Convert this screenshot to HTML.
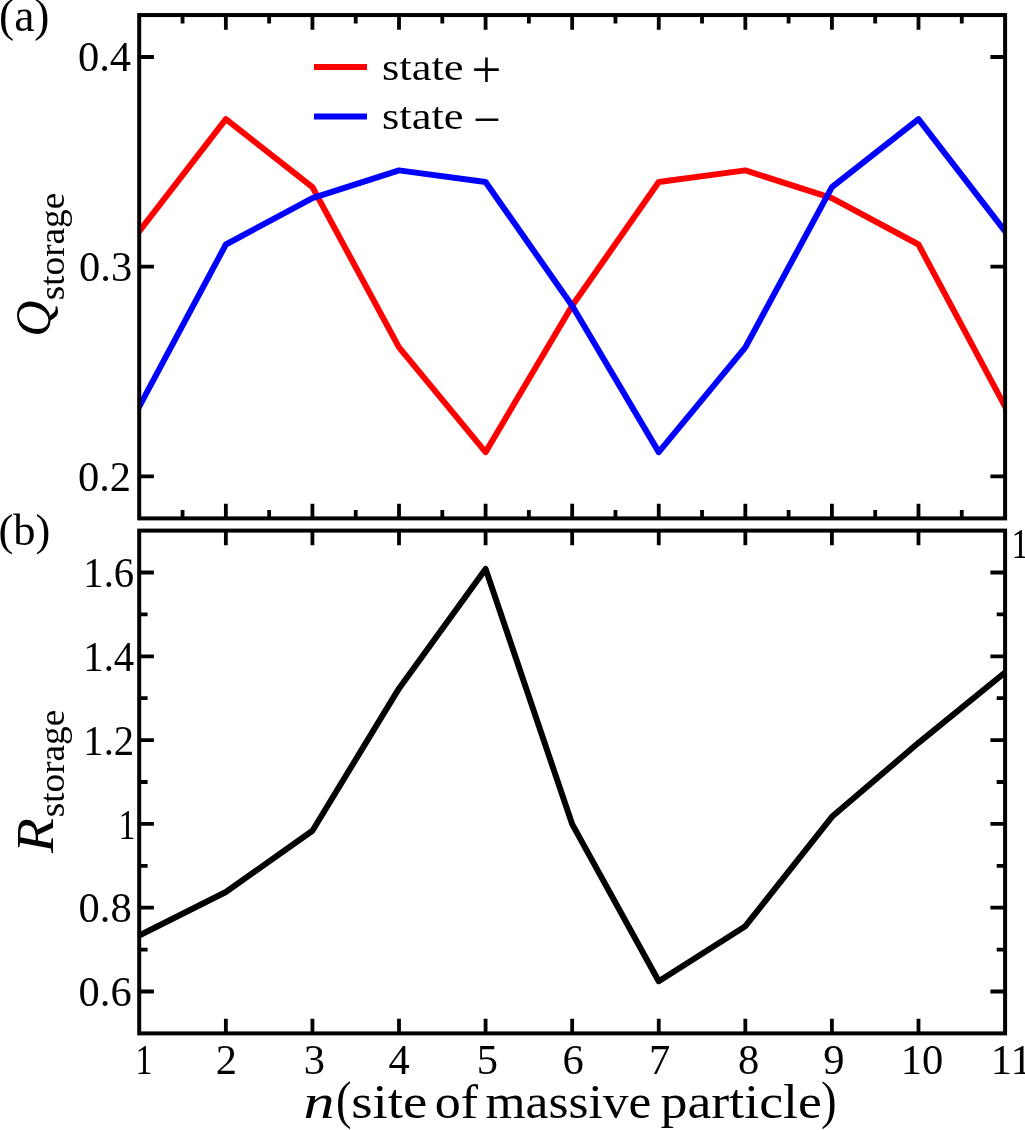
<!DOCTYPE html><html><head><meta charset="utf-8"><title>Storage plot</title><style>html,body{margin:0;padding:0;background:#fff;width:1025px;height:1130px;overflow:hidden}svg{display:block}</style></head><body>
<svg width="1025" height="1130" viewBox="0 0 1025 1130" font-family="'Liberation Serif', serif" fill="#000">
<defs><clipPath id="ca"><rect x="139.2" y="15.05" width="865.9000000000001" height="503.34999999999997"/></clipPath><clipPath id="cb"><rect x="139.2" y="530.6" width="865.9000000000001" height="502.80000000000007"/></clipPath></defs>
<rect width="1025" height="1130" fill="#fff"/>
<g fill="none" stroke-width="6.0" stroke-linejoin="round" stroke-linecap="square">
<polyline clip-path="url(#ca)" stroke="#f00" points="139.27,231.30 225.85,119.10 312.43,187.10 399.01,347.40 485.59,452.10 572.17,305.80 658.75,182.00 745.33,170.40 831.91,198.10 918.49,244.50 1005.07,406.50"/>
<polyline clip-path="url(#ca)" stroke="#00f" points="139.27,406.50 225.85,244.50 312.43,198.10 399.01,170.40 485.59,182.00 572.17,305.80 658.75,452.10 745.33,347.40 831.91,187.10 918.49,119.10 1005.07,231.30"/>
<polyline clip-path="url(#cb)" stroke="#000" points="139.27,935.50 225.85,892.00 312.43,830.70 399.01,688.40 485.59,568.90 572.17,824.10 658.75,981.20 745.33,926.20 831.91,816.80 918.49,742.80 1005.07,672.50"/>
</g>
<path fill="none" stroke="#000" stroke-width="3.8" d="M225.85 15.05V29.75M225.85 518.40V503.70M225.85 530.60V545.30M225.85 1033.40V1018.70M312.43 15.05V29.75M312.43 518.40V503.70M312.43 530.60V545.30M312.43 1033.40V1018.70M399.01 15.05V29.75M399.01 518.40V503.70M399.01 530.60V545.30M399.01 1033.40V1018.70M485.59 15.05V29.75M485.59 518.40V503.70M485.59 530.60V545.30M485.59 1033.40V1018.70M572.17 15.05V29.75M572.17 518.40V503.70M572.17 530.60V545.30M572.17 1033.40V1018.70M658.75 15.05V29.75M658.75 518.40V503.70M658.75 530.60V545.30M658.75 1033.40V1018.70M745.33 15.05V29.75M745.33 518.40V503.70M745.33 530.60V545.30M745.33 1033.40V1018.70M831.91 15.05V29.75M831.91 518.40V503.70M831.91 530.60V545.30M831.91 1033.40V1018.70M918.49 15.05V29.75M918.49 518.40V503.70M918.49 530.60V545.30M918.49 1033.40V1018.70M182.56 15.05V23.45M182.56 518.40V510.00M269.14 15.05V23.45M269.14 518.40V510.00M355.72 15.05V23.45M355.72 518.40V510.00M442.30 15.05V23.45M442.30 518.40V510.00M528.88 15.05V23.45M528.88 518.40V510.00M615.46 15.05V23.45M615.46 518.40V510.00M702.04 15.05V23.45M702.04 518.40V510.00M788.62 15.05V23.45M788.62 518.40V510.00M875.20 15.05V23.45M875.20 518.40V510.00M961.78 15.05V23.45M961.78 518.40V510.00M139.20 476.45H153.90M1005.10 476.45H990.40M139.20 266.72H153.90M1005.10 266.72H990.40M139.20 57.00H153.90M1005.10 57.00H990.40M139.20 991.50H153.90M1005.10 991.50H990.40M139.20 949.60H147.60M1005.10 949.60H996.70M139.20 907.70H153.90M1005.10 907.70H990.40M139.20 865.80H147.60M1005.10 865.80H996.70M139.20 823.90H153.90M1005.10 823.90H990.40M139.20 782.00H147.60M1005.10 782.00H996.70M139.20 740.10H153.90M1005.10 740.10H990.40M139.20 698.20H147.60M1005.10 698.20H996.70M139.20 656.30H153.90M1005.10 656.30H990.40M139.20 614.40H147.60M1005.10 614.40H996.70M139.20 572.50H153.90M1005.10 572.50H990.40"/>
<rect x="139.2" y="15.05" width="865.90" height="503.35" fill="none" stroke="#000" stroke-width="4.0"/>
<rect x="139.2" y="530.6" width="865.90" height="502.80" fill="none" stroke="#000" stroke-width="4.0"/>
<path d="M314 67H367" stroke="#f00" stroke-width="6"/><path d="M314 116.4H367" stroke="#00f" stroke-width="6"/>
<g font-size="38.5">
<text x="382" y="80.4" textLength="81.5" lengthAdjust="spacingAndGlyphs">state</text>
<text x="382" y="129.1" textLength="81.5" lengthAdjust="spacingAndGlyphs">state</text>
</g>
<text x="471.5" y="87.4" font-size="53">+</text>
<text x="473.2" y="135.5" font-size="49">−</text>
<text x="-1" y="30.5" font-size="45.5">(a)</text>
<text x="-1.6" y="544.8" font-size="44.5">(b)</text>
<g font-size="42.5" text-anchor="end">
<text x="131" y="71.4">0.4</text>
<text x="132.2" y="281.1">0.3</text>
<text x="131" y="490.9">0.2</text>
<text x="134.2" y="587.1" textLength="50.9" lengthAdjust="spacingAndGlyphs">1.6</text>
<text x="134.2" y="670.9" textLength="50.9" lengthAdjust="spacingAndGlyphs">1.4</text>
<text x="134.2" y="754.7" textLength="50.9" lengthAdjust="spacingAndGlyphs">1.2</text>
<text x="135.6" y="838.5" textLength="17" lengthAdjust="spacingAndGlyphs">1</text>
<text x="131.7" y="922.3">0.8</text>
<text x="131.7" y="1006.1">0.6</text>
</g>
<g font-size="42.5" text-anchor="middle">
<text x="226.3" y="1073.6">2</text>
<text x="314.3" y="1073.6">3</text>
<text x="399.1" y="1073.6">4</text>
<text x="487.3" y="1073.6">5</text>
<text x="573.2" y="1073.6">6</text>
<text x="659.5" y="1073.6">7</text>
<text x="748.6" y="1073.6">8</text>
<text x="833.8" y="1073.6">9</text>
<text x="922.0" y="1073.6">10</text>
<text x="1011.2" y="1073.6">11</text>
</g>
<text x="152.4" y="1073.6" font-size="42.5" text-anchor="end" textLength="17" lengthAdjust="spacingAndGlyphs">1</text>
<text x="1028.6" y="558" font-size="42.5" text-anchor="end" textLength="17" lengthAdjust="spacingAndGlyphs">1</text>
<text x="303.5" y="1117.5" font-size="48" font-style="italic" textLength="31" lengthAdjust="spacingAndGlyphs">n</text>
<text x="336.0" y="1117.5" font-size="52" textLength="15.5" lengthAdjust="spacingAndGlyphs">(</text>
<text x="351.2" y="1117.5" font-size="49" textLength="76.3" lengthAdjust="spacingAndGlyphs">site</text>
<text x="434.8" y="1117.5" font-size="49" textLength="43.3" lengthAdjust="spacingAndGlyphs">of</text>
<text x="485.6" y="1117.5" font-size="49" textLength="165.8" lengthAdjust="spacingAndGlyphs">massive</text>
<text x="660.6" y="1117.5" font-size="49" textLength="161.3" lengthAdjust="spacingAndGlyphs">particle</text>
<text x="820.9" y="1117.5" font-size="52" textLength="15.6" lengthAdjust="spacingAndGlyphs">)</text>
<text transform="translate(49.9,336.8) rotate(-90)" font-size="50" font-style="italic">Q</text>
<text transform="translate(64.4,300.3) rotate(-90)" font-size="35" textLength="107.5" lengthAdjust="spacingAndGlyphs">storage</text>
<text transform="translate(52.6,853) rotate(-90)" font-size="52" font-style="italic" textLength="35" lengthAdjust="spacingAndGlyphs">R</text>
<text transform="translate(64.4,817.3) rotate(-90)" font-size="35" textLength="107.5" lengthAdjust="spacingAndGlyphs">storage</text>
</svg></body></html>
